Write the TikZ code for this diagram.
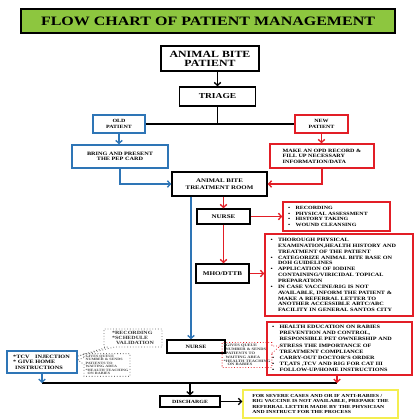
\documentclass[tikz,border=0pt]{standalone}
\usepackage{fontspec}
\setmainfont{Liberation Serif}[FakeStretch=1.25]
\usetikzlibrary{arrows.meta,shapes.callouts}
\definecolor{pmblue}{RGB}{46,117,182}
\definecolor{pmred}{RGB}{226,30,38}
\definecolor{pmgreen}{RGB}{141,198,63}
\definecolor{pmyellow}{RGB}{244,238,80}
\definecolor{pmgray}{RGB}{110,110,110}
\newcommand\pmfs[2]{\fontsize{#1}{#2}\selectfont}
\newcommand\pmbul{\makebox[8pt][l]{\hspace{0.5pt}•}}
\newcommand\pmind{\hspace*{8pt}}
\tikzset{
  blk/.style={draw=black, line width=1.4pt, inner sep=1pt, align=center},
  blu/.style={blk, draw=pmblue},
  rd/.style={blk, draw=pmred},
  lst/.style={rd, align=left, inner xsep=0pt},
  arr/.style={line width=1.4pt, -{Straight Barb[length=3pt,width=6.5pt,line width=1.3pt]}},
  karr/.style={arr, draw=black},
  barr/.style={arr, draw=pmblue},
  rarr/.style={arr, draw=pmred},
  kline/.style={line width=1.4pt, draw=black},
  gcall/.style={rectangle callout, draw=pmgray, dotted, line width=0.8pt, inner sep=1.5pt, align=left, text=pmgray!70!black},
  rcall/.style={rectangle callout, draw=pmred, dotted, line width=0.8pt, inner sep=1.5pt, align=left, text=black!75},
}
\begin{document}
\begin{tikzpicture}[x=1pt,y=-1pt]
\useasboundingbox[fill=white] (0,0) rectangle (419,419);

\node[blk, fill=pmgreen, minimum width=374pt, minimum height=24pt, font=\bfseries\pmfs{12.8}{13}] (title) at (208,21) {FLOW CHART OF PATIENT MANAGEMENT};

\node[blk, minimum width=98pt, minimum height=25pt, font=\bfseries\pmfs{9.5}{9}] (abp) at (210,58.5) {ANIMAL BITE\\PATIENT};
\node[blk, minimum width=76pt, minimum height=19pt, font=\bfseries\pmfs{7.6}{8}] (triage) at (217.5,96.5) {TRIAGE};

\node[blu, line width=1.2pt, minimum width=52pt, minimum height=18pt, font=\bfseries\pmfs{4.8}{6}] (old) at (119,124) {OLD\\PATIENT};
\node[rd, line width=1.2pt, minimum width=53pt, minimum height=18pt, font=\bfseries\pmfs{4.8}{6}] (new) at (321.5,124) {NEW\\PATIENT};

\node[blu, minimum width=96pt, minimum height=23pt, font=\bfseries\pmfs{5}{5.5}] (bring) at (120,156.5) {BRING AND PRESENT\\THE PEP CARD};
\node[rd, minimum width=104pt, minimum height=24pt, align=left, font=\bfseries\pmfs{4.9}{5.4}] (opd) at (322,156) {MAKE AN OPD RECORD \&\\FILL UP NECESSARY\\INFORMATION/DATA\hspace*{12pt}};

\node[blk, minimum width=95pt, minimum height=24pt, font=\bfseries\pmfs{5.5}{7.2}] (atr) at (219.5,184) {ANIMAL BITE\\TREATMENT ROOM};

\node[blk, minimum width=53pt, minimum height=15pt, font=\bfseries\pmfs{5.6}{6}] (nurse1) at (223.5,216.5) {NURSE};
\node[lst, minimum width=107pt, minimum height=29pt, text width=98pt, font=\bfseries\pmfs{4.8}{5.8}] (list1) at (336.5,216.5) {\pmbul RECORDING\\\pmbul PHYSICAL ASSESSMENT\\\pmbul HISTORY TAKING\\\pmbul WOUND CLEANSING};

\node[blk, minimum width=53pt, minimum height=19pt, font=\bfseries\pmfs{5.7}{6}] (mho) at (222.5,273.5) {MHO/DTTB};
\node[lst, minimum width=148pt, minimum height=82pt, text width=138pt, font=\bfseries\pmfs{4.95}{5.85}] (list2) at (339,275) {\pmbul THOROUGH PHYSICAL\\\pmind EXAMINATION,HEALTH HISTORY AND\\\pmind TREATMENT OF THE PATIENT\\\pmbul CATEGORIZE ANIMAL BITE BASE ON\\\pmind DOH GUIDELINES\\\pmbul APPLICATION OF IODINE\\\pmind CONTAINING/VIRICIDAL TOPICAL\\\pmind PREPARATION\\\pmbul IN CASE VACCINE/RIG IS NOT\\\pmind AVAILABLE, INFORM THE PATIENT \&\\\pmind MAKE A REFERRAL LETTER TO\\\pmind ANOTHER ACCESSIBLE ABTC/ABC\\\pmind FACILITY IN GENERAL SANTOS CITY};

\node[lst, minimum width=145pt, minimum height=53pt, text width=136pt, font=\bfseries\pmfs{4.95}{6.1}] (list3) at (339.5,348.5) {\pmbul HEALTH EDUCATION ON RABIES\\\pmind PREVENTION AND CONTROL,\\\pmind RESPONSIBLE PET OWNERSHIP AND\\\pmind STRESS THE IMPORTANCE OF\\\pmind TREATMENT COMPLIANCE\\\pmbul CARRY-OUT DOCTOR'S ORDER\\\pmbul TT,ATS ,TCV AND RIG FOR CAT III\\\pmbul FOLLOW-UP/HOME INSTRUCTIONS};

\node[blk, minimum width=58pt, minimum height=13pt, font=\bfseries\pmfs{4.9}{5}] (nurse2) at (196,346.5) {NURSE};

\node[blu, minimum width=70pt, minimum height=22pt, align=left, font=\bfseries\pmfs{5}{5.5}] (tcv) at (42,362) {*TCV\hspace{4pt} INJECTION\\* GIVE HOME\\\hspace*{2pt}INSTRUCTIONS\hspace*{8pt}};

\coordinate (p1) at (78,356);
\coordinate (p2) at (78,360);
\coordinate (p3) at (280,346);
\node[gcall, callout absolute pointer={(p1)}, minimum width=58pt, minimum height=18pt, font=\bfseries\pmfs{4.8}{5.3}, text=black!80] (rec) at (133,338) {*RECORDING\\*SCHEDULE\\\hspace*{4pt}VALIDATION};
\node[gcall, callout absolute pointer={(p2)}, font=\bfseries\pmfs{3.3}{3.5}] (gq1) at (107,365) {GIVES QUEUE\\NUMBER \& SENDS\\PATIENTS TO\\WAITING AREA\\*HEALTH TEACHING\\\hspace*{2pt}ON RABIES};
\node[rcall, callout absolute pointer={(p3)}, font=\bfseries\pmfs{3.6}{3.9}] (gq2) at (247,355) {*GIVES QUEUE\\\hspace*{2pt}NUMBER \& SENDS\\\hspace*{2pt}PATIENTS TO\\\hspace*{2pt}WAITING AREA\\*HEALTH TEACHING\\\hspace*{4pt}ON RABIES};

\node[blk, line width=1.2pt, minimum width=60pt, minimum height=11pt, font=\bfseries\pmfs{4.75}{5}] (discharge) at (190,401.5) {DISCHARGE};
\node[blk, draw=pmyellow, line width=1.5pt, minimum width=155pt, minimum height=28pt, align=left, font=\bfseries\pmfs{4.6}{5.2}] (yellow) at (320.5,404) {FOR SEVERE CASES AND OR IF ANTI-RABIES /\\RIG VACCINE IS NOT AVAILABLE, PREPARE THE\\REFERRAL LETTER MADE BY THE PHYSICIAN\\AND INSTRUCT FOR THE PROCESS};

% connectors
\draw[karr] (abp.south -| triage.north) -- (triage.north);
\coordinate (tj) at (217.5,124);
\draw[kline] (triage.south) -- (tj);
\draw[kline] (old.east) -- (new.west);
\draw[barr] (old.south) -- (old.south |- bring.north);
\draw[rarr] (new.south) -- (new.south |- opd.north);
\draw[barr] (bring.south) |- (atr.west);
\draw[rarr] (opd.south) |- (atr.east);
\draw[rarr] (atr.south -| nurse1.north) -- (nurse1.north);
\draw[barr] ([xshift=-5pt]nurse2.north |- atr.south) -- ([xshift=-5pt]nurse2.north);
\draw[rarr] (nurse1.south) -- (nurse1.south |- mho.north);
\draw[rarr] (nurse1.east) -- (nurse1.east -| list1.west);
\draw[rarr] (mho.east) -- (mho.east -| list2.west);
\coordinate (hl) at (42,383);
\coordinate (hr) at (337,383);
\draw[kline] (hl) -- (hr);
\draw[barr] (tcv.south) -- (tcv.south |- hl);
\draw[rarr] (list3.south -| hr) -- (hr);
\draw[karr] (hl -| discharge.north) -- (discharge.north);
\draw[karr] (discharge.east) -- (discharge.east -| yellow.west);
\end{tikzpicture}
\end{document}
